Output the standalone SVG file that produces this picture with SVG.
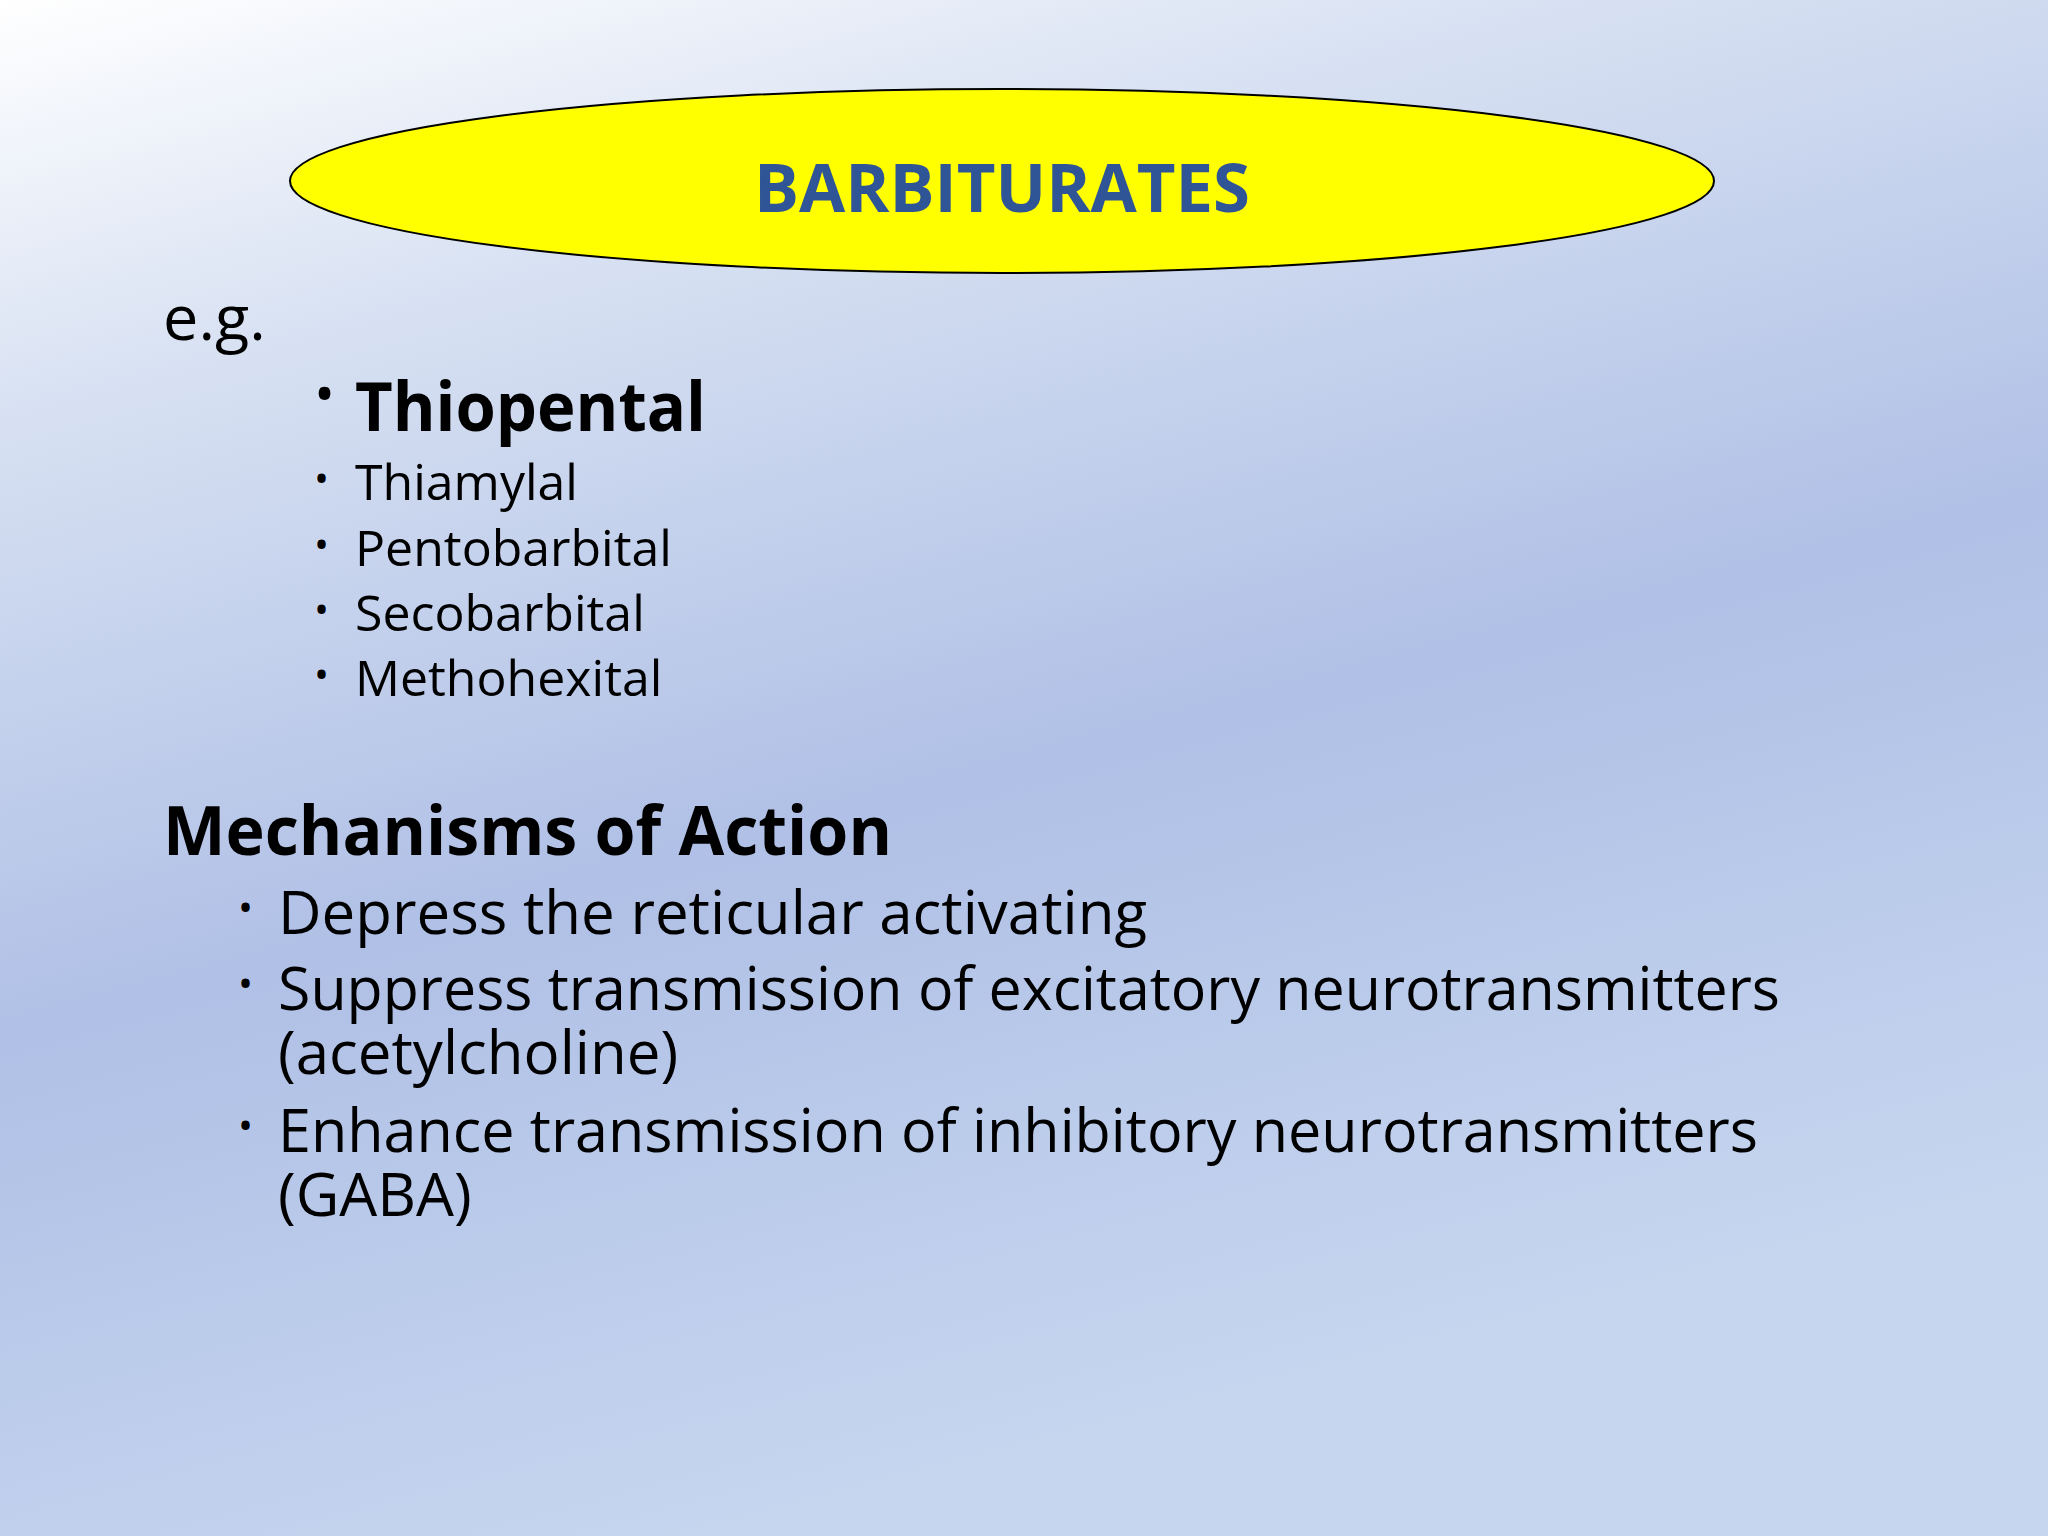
<svg xmlns="http://www.w3.org/2000/svg" width="2048" height="1536" viewBox="0 0 2048 1536">
<defs>
<linearGradient id="bg" x1="0" y1="0" x2="0.35" y2="1">
<stop offset="0" stop-color="#ffffff"/>
<stop offset="0.25" stop-color="#d6e0f2"/>
<stop offset="0.6" stop-color="#b0c0e6"/>
<stop offset="1" stop-color="#c6d6ef"/>
</linearGradient>
<style>
text{font-family:"Open Sans","Liberation Sans",sans-serif;fill:#000}
.b{font-weight:bold}
.s{font-size:50px}
.m{font-size:60px}
.d{font-size:40px}
</style>
</defs>
<rect width="2048" height="1536" fill="url(#bg)"/>
<g id="title">
<ellipse cx="1002" cy="181" rx="712" ry="92" fill="#ffff00" stroke="#000" stroke-width="2"/>
<text x="1002" y="212" text-anchor="middle" class="b" font-size="66" style="fill:#2f5597" textLength="496" lengthAdjust="spacingAndGlyphs">BARBITURATES</text>
</g>
<g id="examples">
<text x="163" y="340" font-size="63">e.g.</text>
<text x="314" y="414" font-size="56">•</text>
<text x="355" y="431" class="b" font-size="68" textLength="351" lengthAdjust="spacingAndGlyphs">Thiopental</text>
<text x="314" y="493" class="d">•</text><text x="355" y="500" class="s">Thiamylal</text>
<text x="314" y="559" class="d">•</text><text x="355" y="566" class="s">Pentobarbital</text>
<text x="314" y="624" class="d">•</text><text x="355" y="631" class="s">Secobarbital</text>
<text x="314" y="689" class="d">•</text><text x="355" y="696" class="s">Methohexital</text>
</g>
<g id="mechanisms">
<text x="163" y="855" class="b" font-size="68" textLength="729" lengthAdjust="spacingAndGlyphs">Mechanisms of Action</text>
<text x="238" y="922" class="d">•</text><text x="278" y="934" class="m">Depress the reticular activating</text>
<text x="238" y="998" class="d">•</text><text x="278" y="1010" class="m" textLength="1502" lengthAdjust="spacingAndGlyphs">Suppress transmission of excitatory neurotransmitters</text>
<text x="278" y="1074" class="m">(acetylcholine)</text>
<text x="238" y="1140" class="d">•</text><text x="278" y="1152" class="m" textLength="1480" lengthAdjust="spacingAndGlyphs">Enhance transmission of inhibitory neurotransmitters</text>
<text x="278" y="1216" class="m">(GABA)</text>
</g>
</svg>
